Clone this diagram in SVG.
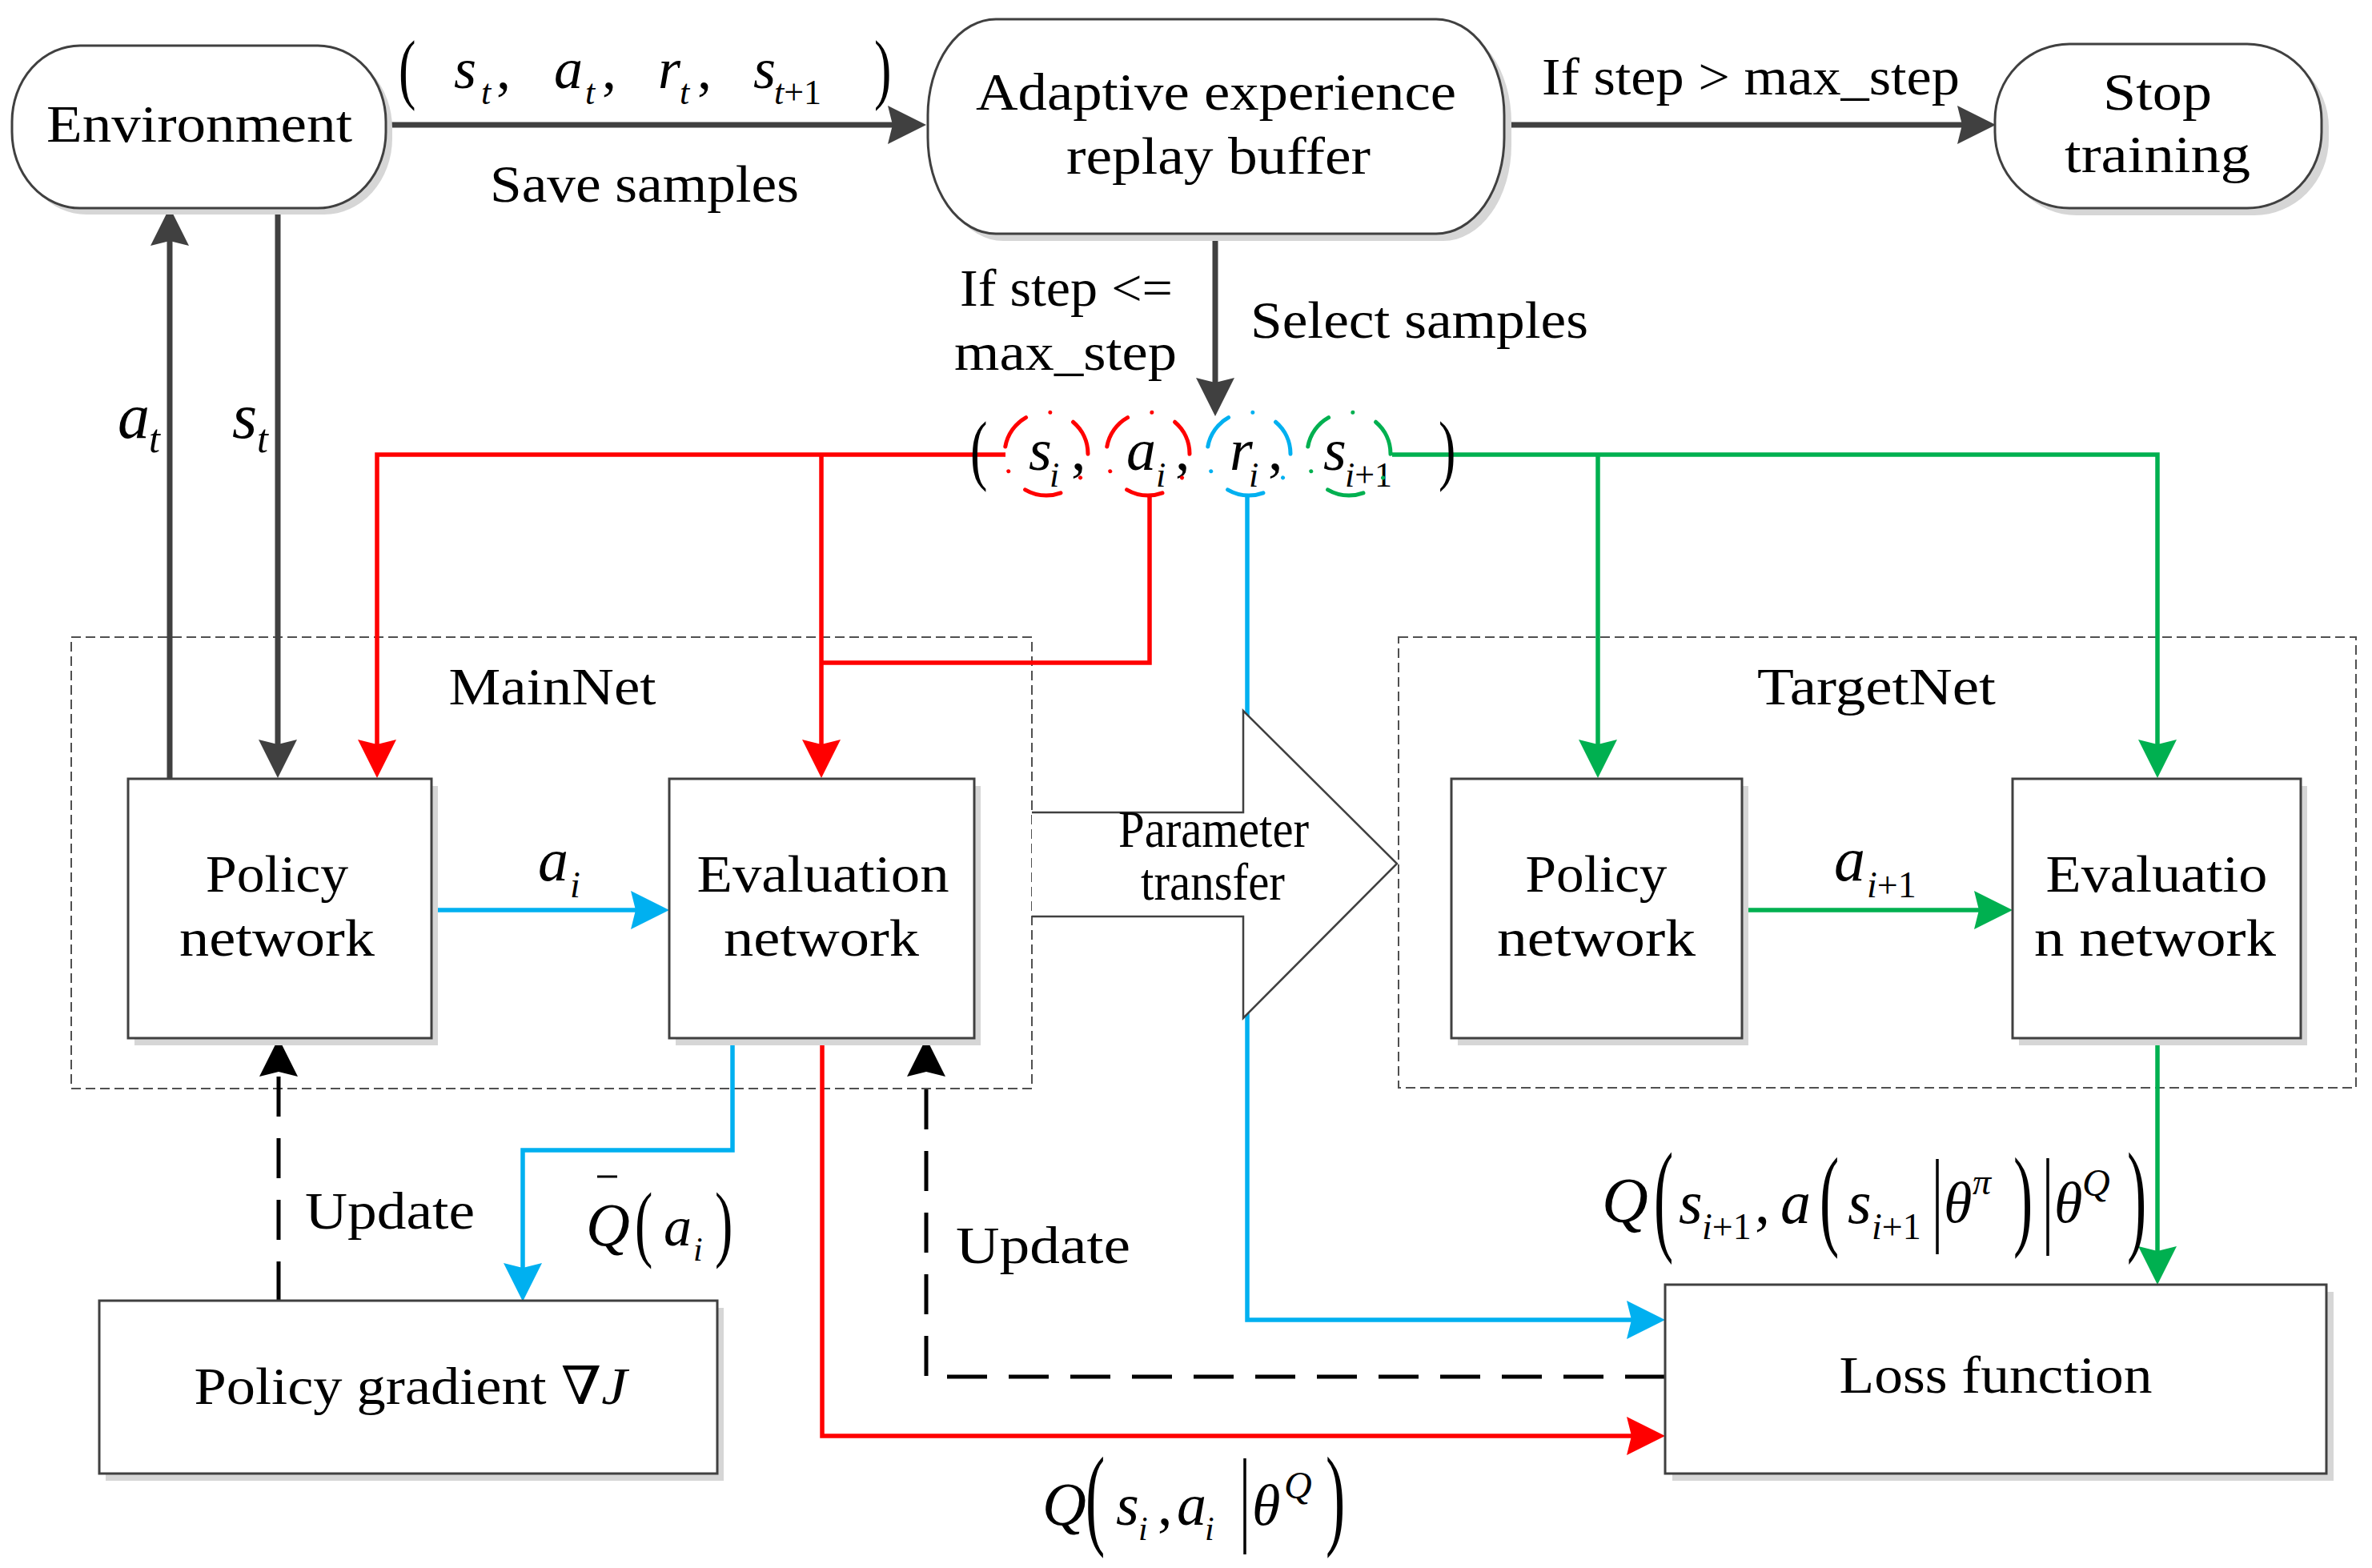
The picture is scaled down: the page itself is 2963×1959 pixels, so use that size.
<svg xmlns="http://www.w3.org/2000/svg" width="2963" height="1959" viewBox="0 0 2963 1959">
<style>
.t{font-family:"Liberation Serif","DejaVu Serif",serif;font-size:66px;fill:#000}
.tm{font-family:"Liberation Serif","DejaVu Serif",serif;fill:#000}
.it{font-style:italic}
.par{font-family:"Liberation Serif","DejaVu Serif",serif;font-size:56px;fill:#000}
.box{fill:#fff;stroke:#404040;stroke-width:3}
.shd{fill:#d6d6d6;stroke:none}
.grp{fill:none;stroke:#505050;stroke-width:2;stroke-dasharray:12 6}
.dk{fill:none;stroke:#404040;stroke-width:7}
.rd{fill:none;stroke:#ff0000;stroke-width:5.5}
.bl{fill:none;stroke:#00b0f0;stroke-width:5.5}
.gn{fill:none;stroke:#00b050;stroke-width:5.5}
.bk{fill:none;stroke:#000;stroke-width:5;stroke-dasharray:50 27}
.circ{fill:none;stroke-width:5;stroke-linecap:round;stroke-dasharray:46 31.45 0.01 31.45;stroke-dashoffset:45.7}
.vb{stroke:#000;stroke-width:3.5}
</style>
<defs>
<marker id="aDk" markerUnits="userSpaceOnUse" markerWidth="50" markerHeight="50" refX="8" refY="24" orient="auto" overflow="visible"><path d="M0,0 L48,24 L0,48 L6,24 Z" fill="#404040"/></marker>
<marker id="aRd" markerUnits="userSpaceOnUse" markerWidth="50" markerHeight="50" refX="8" refY="24" orient="auto" overflow="visible"><path d="M0,0 L48,24 L0,48 L6,24 Z" fill="#ff0000"/></marker>
<marker id="aBl" markerUnits="userSpaceOnUse" markerWidth="50" markerHeight="50" refX="8" refY="24" orient="auto" overflow="visible"><path d="M0,0 L48,24 L0,48 L6,24 Z" fill="#00b0f0"/></marker>
<marker id="aGn" markerUnits="userSpaceOnUse" markerWidth="50" markerHeight="50" refX="8" refY="24" orient="auto" overflow="visible"><path d="M0,0 L48,24 L0,48 L6,24 Z" fill="#00b050"/></marker>
<marker id="aBk" markerUnits="userSpaceOnUse" markerWidth="50" markerHeight="50" refX="8" refY="24" orient="auto" overflow="visible"><path d="M0,0 L48,24 L0,48 L6,24 Z" fill="#000"/></marker>
</defs>
<rect width="2963" height="1959" fill="#fff"/>

<g id="groups">
<rect class="grp" x="89" y="796" width="1200" height="564"/>
<rect class="grp" x="1747" y="796" width="1196" height="563"/>
<text class="t" x="690" y="880" text-anchor="middle" textLength="259" lengthAdjust="spacingAndGlyphs">MainNet</text>
<text class="t" x="2344" y="880" text-anchor="middle" textLength="298" lengthAdjust="spacingAndGlyphs">TargetNet</text>
</g>

<g id="connectors">
<path class="dk" d="M482,156 H1117" marker-end="url(#aDk)"/>
<path class="dk" d="M1880,156 H2453" marker-end="url(#aDk)"/>
<path class="dk" d="M1518,293 V480" marker-end="url(#aDk)"/>
<path class="dk" d="M212,975 V299" marker-end="url(#aDk)"/>
<path class="dk" d="M347,260 V932" marker-end="url(#aDk)"/>
<path class="rd" d="M1256,568 H471 V932" marker-end="url(#aRd)"/>
<path class="rd" d="M1026,568 V932" marker-end="url(#aRd)"/>
<path class="rd" d="M1436,620 V828 H1026"/>
<path class="rd" d="M1027,1297 V1794 H2040" marker-end="url(#aRd)"/>
<path class="bl" d="M1558,620 V1649 H2040" marker-end="url(#aBl)"/>
<path class="bl" d="M915,1297 V1437 H653 V1586" marker-end="url(#aBl)"/>
<path class="bl" d="M539,1137 H796" stroke-width="7" marker-end="url(#aBl)"/>
<path class="gn" d="M1739,568 H2695 V932" marker-end="url(#aGn)"/>
<path class="gn" d="M1996,568 V932" marker-end="url(#aGn)"/>
<path class="gn" d="M2176,1137 H2474" stroke-width="7" marker-end="url(#aGn)"/>
<path class="gn" d="M2695,1297 V1565" marker-end="url(#aGn)"/>
<path class="bk" d="M2080,1720 H1157 V1337" marker-end="url(#aBk)"/>
<path class="bk" d="M348,1626 V1337" marker-end="url(#aBk)"/>
</g>

<g id="labels">
<!-- (s_t, a_t, r_t, s_t+1) -->
<text class="par" transform="translate(498,118) scale(1.15,1.75)">(</text>
<text class="tm" font-size="72"><tspan class="it" x="567" y="110">s</tspan><tspan class="it" x="601" y="130" font-size="44">t</tspan><tspan x="620" y="110">,</tspan><tspan class="it" x="692" y="110">a</tspan><tspan class="it" x="731" y="130" font-size="44">t</tspan><tspan x="752" y="110">,</tspan><tspan class="it" x="822" y="110">r</tspan><tspan class="it" x="849" y="130" font-size="44">t</tspan><tspan x="871" y="110">,</tspan><tspan class="it" x="941" y="110">s</tspan><tspan class="it" x="967" y="130" font-size="44">t</tspan><tspan y="130" font-size="44">+1</tspan></text>
<text class="par" transform="translate(1092,118) scale(1.15,1.75)">)</text>
<text class="t" x="805" y="252" text-anchor="middle" textLength="386" lengthAdjust="spacingAndGlyphs">Save samples</text>
<text class="t" x="2187" y="118" text-anchor="middle" textLength="522" lengthAdjust="spacingAndGlyphs">If step &gt; max_step</text>
<text class="t" x="1332" y="382" text-anchor="middle" textLength="266" lengthAdjust="spacingAndGlyphs">If step &lt;=</text>
<text class="t" x="1331" y="462" text-anchor="middle" textLength="278" lengthAdjust="spacingAndGlyphs">max_step</text>
<text class="t" x="1562" y="422" textLength="422" lengthAdjust="spacingAndGlyphs">Select samples</text>
<!-- a_t, s_t -->
<text class="tm it" font-size="80"><tspan x="147" y="547">a</tspan><tspan x="186" y="565" font-size="50">t</tspan></text>
<text class="tm it" font-size="80"><tspan x="290" y="547">s</tspan><tspan x="321" y="565" font-size="50">t</tspan></text>
<!-- (s_i, a_i, r_i, s_i+1) -->
<text class="par" transform="translate(1212,594) scale(1.15,1.75)">(</text>
<text class="tm" font-size="74"><tspan class="it" x="1285" y="587">s</tspan><tspan class="it" x="1311" y="608" font-size="44">i</tspan><tspan x="1338" y="587">,</tspan><tspan class="it" x="1407" y="587">a</tspan><tspan class="it" x="1444" y="608" font-size="44">i</tspan><tspan x="1468" y="587">,</tspan><tspan class="it" x="1536" y="587">r</tspan><tspan class="it" x="1560" y="608" font-size="44">i</tspan><tspan x="1584" y="587">,</tspan><tspan class="it" x="1653" y="587">s</tspan><tspan class="it" x="1680" y="608" font-size="44">i</tspan><tspan y="608" font-size="44">+1</tspan></text>
<text class="par" transform="translate(1797,594) scale(1.15,1.75)">)</text>
<circle class="circ" cx="1307" cy="567" r="52" stroke="#ff0000"/>
<circle class="circ" cx="1434" cy="567" r="52" stroke="#ff0000"/>
<circle class="circ" cx="1560" cy="567" r="52" stroke="#00b0f0"/>
<circle class="circ" cx="1685" cy="567" r="52" stroke="#00b050"/>
<!-- a_i, a_i+1 -->
<text class="tm it" font-size="76"><tspan x="672" y="1100">a</tspan><tspan x="712" y="1121" font-size="46">i</tspan></text>
<text class="tm" font-size="78"><tspan class="it" x="2291" y="1100">a</tspan><tspan class="it" x="2332" y="1121" font-size="46">i</tspan><tspan y="1121" font-size="46">+1</tspan></text>
<!-- Update labels -->
<text class="t" x="487" y="1535" text-anchor="middle" textLength="212" lengthAdjust="spacingAndGlyphs">Update</text>
<text class="t" x="1303" y="1578" text-anchor="middle" textLength="218" lengthAdjust="spacingAndGlyphs">Update</text>
<!-- Qbar(a_i) -->
<line x1="746" y1="1470" x2="771" y2="1470" stroke="#000" stroke-width="3"/>
<text class="tm it" x="732" y="1556" font-size="76">Q</text>
<text class="par" transform="translate(793,1563) scale(1.2,1.9)">(</text>
<text class="tm it" font-size="70"><tspan x="829" y="1556">a</tspan><tspan x="866" y="1575" font-size="42">i</tspan></text>
<text class="par" transform="translate(893,1563) scale(1.2,1.9)">)</text>
<!-- Q(s_i+1, a(s_i+1|theta^pi)|theta^Q) -->
<text class="tm it" x="2001" y="1527" font-size="80">Q</text>
<text class="par" transform="translate(2066,1547) scale(1.3,2.75)">(</text>
<text class="tm" font-size="76"><tspan class="it" x="2097" y="1528">s</tspan><tspan class="it" x="2126" y="1548" font-size="46">i</tspan><tspan y="1548" font-size="46">+1</tspan><tspan x="2192" y="1528">,</tspan><tspan class="it" x="2224" y="1528">a</tspan></text>
<text class="par" transform="translate(2273,1543) scale(1.3,2.5)">(</text>
<text class="tm" font-size="76"><tspan class="it" x="2308" y="1528">s</tspan><tspan class="it" x="2338" y="1548" font-size="46">i</tspan><tspan y="1548" font-size="46">+1</tspan></text>
<line class="vb" x1="2420" y1="1448" x2="2420" y2="1567"/>
<text class="tm it" font-size="72"><tspan x="2428" y="1527">θ</tspan><tspan x="2464" y="1492" font-size="46">π</tspan></text>
<text class="par" transform="translate(2515,1543) scale(1.3,2.5)">)</text>
<line class="vb" x1="2558" y1="1447" x2="2558" y2="1569"/>
<text class="tm it" font-size="72"><tspan x="2566" y="1527">θ</tspan><tspan x="2601" y="1494" font-size="48">Q</tspan></text>
<text class="par" transform="translate(2657,1547) scale(1.3,2.75)">)</text>
<!-- Q(s_i, a_i|theta^Q) -->
<text class="tm it" x="1302" y="1905" font-size="76">Q</text>
<text class="par" transform="translate(1356,1917) scale(1.3,2.5)">(</text>
<text class="tm" font-size="74"><tspan class="it" x="1394" y="1905">s</tspan><tspan class="it" x="1422" y="1924" font-size="42">i</tspan><tspan x="1446" y="1905">,</tspan><tspan class="it" x="1470" y="1905">a</tspan><tspan class="it" x="1505" y="1924" font-size="42">i</tspan></text>
<line class="vb" x1="1555" y1="1822" x2="1555" y2="1942"/>
<text class="tm it" font-size="72"><tspan x="1564" y="1905">θ</tspan><tspan x="1604" y="1872" font-size="48">Q</tspan></text>
<text class="par" transform="translate(1656,1917) scale(1.3,2.5)">)</text>
</g>

<g id="environment">
<rect class="shd" x="23" y="65" width="467" height="203" rx="85" ry="95"/>
<rect class="box" x="15" y="57" width="467" height="203" rx="85" ry="95"/>
<text class="t" x="249" y="177" text-anchor="middle" textLength="382" lengthAdjust="spacingAndGlyphs">Environment</text>
</g>
<g id="replay-buffer">
<rect class="shd" x="1168" y="33" width="720" height="268" rx="85" ry="120"/>
<rect class="box" x="1159" y="24" width="720" height="268" rx="85" ry="120"/>
<text class="t" x="1519" y="137" text-anchor="middle" textLength="600" lengthAdjust="spacingAndGlyphs">Adaptive experience</text>
<text class="t" x="1522" y="217" text-anchor="middle" textLength="380" lengthAdjust="spacingAndGlyphs">replay buffer</text>
</g>
<g id="stop-training">
<rect class="shd" x="2501" y="64" width="408" height="205" rx="93" ry="95"/>
<rect class="box" x="2492" y="55" width="408" height="205" rx="93" ry="95"/>
<text class="t" x="2695" y="137" text-anchor="middle" textLength="136" lengthAdjust="spacingAndGlyphs">Stop</text>
<text class="t" x="2695" y="215" text-anchor="middle" textLength="232" lengthAdjust="spacingAndGlyphs">training</text>
</g>
<g id="main-policy">
<rect class="shd" x="168" y="982" width="379" height="324"/>
<rect class="box" x="160" y="973" width="379" height="324"/>
<text class="t" x="346" y="1114" text-anchor="middle" textLength="178" lengthAdjust="spacingAndGlyphs">Policy</text>
<text class="t" x="346" y="1194" text-anchor="middle" textLength="244" lengthAdjust="spacingAndGlyphs">network</text>
</g>
<g id="main-evaluation">
<rect class="shd" x="844" y="982" width="381" height="324"/>
<rect class="box" x="836" y="973" width="381" height="324"/>
<text class="t" x="1028" y="1114" text-anchor="middle" textLength="315" lengthAdjust="spacingAndGlyphs">Evaluation</text>
<text class="t" x="1026" y="1194" text-anchor="middle" textLength="244" lengthAdjust="spacingAndGlyphs">network</text>
</g>
<g id="parameter-transfer">
<path d="M1289,1015 H1553 V888 L1745,1079 L1553,1272 V1145 H1289" fill="#fff" stroke="#404040" stroke-width="2.5"/>
<text class="t" x="1516" y="1058" text-anchor="middle" font-size="46" textLength="238" lengthAdjust="spacingAndGlyphs">Parameter</text>
<text class="t" x="1515" y="1124" text-anchor="middle" font-size="46" textLength="180" lengthAdjust="spacingAndGlyphs">transfer</text>
</g>
<g id="target-policy">
<rect class="shd" x="1821" y="982" width="363" height="324"/>
<rect class="box" x="1813" y="973" width="363" height="324"/>
<text class="t" x="1994" y="1114" text-anchor="middle" textLength="177" lengthAdjust="spacingAndGlyphs">Policy</text>
<text class="t" x="1994" y="1194" text-anchor="middle" textLength="248" lengthAdjust="spacingAndGlyphs">network</text>
</g>
<g id="target-evaluation">
<rect class="shd" x="2522" y="982" width="360" height="324"/>
<rect class="box" x="2514" y="973" width="360" height="324"/>
<text class="t" x="2694" y="1114" text-anchor="middle" textLength="277" lengthAdjust="spacingAndGlyphs">Evaluatio</text>
<text class="t" x="2692" y="1194" text-anchor="middle" textLength="302" lengthAdjust="spacingAndGlyphs">n network</text>
</g>
<g id="policy-gradient">
<rect class="shd" x="132" y="1634" width="772" height="216"/>
<rect class="box" x="124" y="1625" width="772" height="216"/>
<text class="t" x="513" y="1754" text-anchor="middle" textLength="541" lengthAdjust="spacingAndGlyphs">Policy gradient ∇<tspan class="it">J</tspan></text>
</g>
<g id="loss-function">
<rect class="shd" x="2089" y="1614" width="826" height="236"/>
<rect class="box" x="2080" y="1605" width="826" height="236"/>
<text class="t" x="2493" y="1740" text-anchor="middle" textLength="391" lengthAdjust="spacingAndGlyphs">Loss function</text>
</g>
</svg>
